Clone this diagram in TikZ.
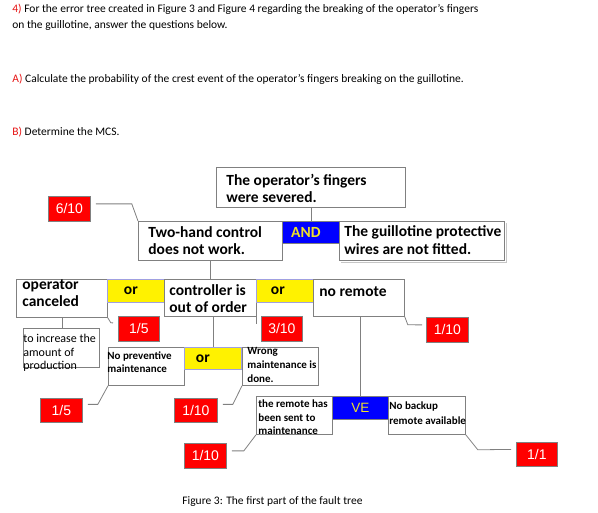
\documentclass[tikz,border=0pt]{standalone}
\usepackage{fontspec}
\setmainfont{Carlito}
\newfontfamily\arialfont{Liberation Sans}
\definecolor{linegray}{RGB}{128,128,128}
\definecolor{gateblue}{RGB}{0,0,255}
\definecolor{gateyellow}{RGB}{240,225,40}
\definecolor{orline}{RGB}{160,160,225}
\definecolor{qred}{RGB}{230,20,20}

\begin{document}
\begin{tikzpicture}[x=1pt,y=-1pt,line width=0.8pt,
  qtext/.style={anchor=base west,inner sep=0pt,font=\fontsize{11.5}{14}\selectfont},
  evbox/.style={draw=linegray,fill=white,anchor=north west,inner sep=0pt},
  gatebox/.style={draw=linegray,anchor=north west,inner sep=0pt,font=\bfseries\fontsize{15.5}{18}\selectfont},
  andgate/.style={gatebox,fill=gateblue,text=gateyellow},
  orgate/.style={gatebox,draw=orline,fill=yellow},
  prob/.style={draw=linegray,fill=red,text=white,anchor=north west,inner sep=0pt,font=\arialfont\fontsize{14}{16}\selectfont},
  bigtxt/.style={anchor=base west,inner sep=0pt,align=left,font=\bfseries\fontsize{15.5}{17.5}\selectfont},
  smalltxt/.style={anchor=base west,inner sep=0pt,align=left,font=\bfseries\fontsize{11}{13.5}\selectfont},
  link/.style={draw=linegray}]
  \useasboundingbox (0,0) rectangle (598,513);
  % questions
  \node[qtext] (q1) at (12,13) {\textcolor{qred}{4)} For the error tree created in Figure 3 and Figure 4 regarding the breaking of the operator's fingers};
  \node[qtext] (q2) at (12,29) {on the guillotine, answer the questions below.};
  \node[qtext] (qa) at (12,83) {\textcolor{qred}{A)} Calculate the probability of the crest event of the operator's fingers breaking on the guillotine.};
  \node[qtext] (qb) at (12,136) {\textcolor{qred}{B)} Determine the MCS.};
  % top event and first level (text placed at the baseline of its last line)
  \node[evbox,minimum width=189pt,minimum height=40pt] (top) at (216,167) {};
  \node[evbox,minimum width=144pt,minimum height=39pt] (two) at (138,221) {};
  \node[andgate,minimum width=57pt,minimum height=22pt] (and) at (282,221) {AND\rule{10pt}{0pt}};
  \node[evbox,minimum width=165pt,minimum height=39pt] (wir) at (339,221) {};
  \draw[gray!45] ([shift={(2,2)}]wir.north east) -- ([shift={(2,2)}]wir.south east) -- ([shift={(2,2)}]wir.south west);
  \node[bigtxt] (top-t) at (226,203) {The operator's fingers\\were severed.};
  \node[bigtxt] (two-t) at (148,255) {Two-hand control\\does not work.};
  \node[bigtxt] (wir-t) at (344,254.5) {The guillotine protective\\wires are not fitted.};
  % second level
  \node[evbox,minimum width=91pt,minimum height=38pt] (opc) at (16,279) {};
  \node[orgate,minimum width=57pt,minimum height=23pt] (or1) at (107,279) {or\rule{10pt}{0pt}};
  \node[evbox,minimum width=92pt,minimum height=37pt] (ctrl) at (164,279) {};
  \node[orgate,minimum width=57pt,minimum height=23pt] (or2) at (256,279) {or\rule{14pt}{0pt}};
  \node[evbox,minimum width=91pt,minimum height=37pt] (nor) at (313,279) {};
  \node[bigtxt] (opc-t) at (22,307) {operator\\canceled};
  \node[bigtxt] (ctrl-t) at (169,313) {controller is\\out of order};
  \node[bigtxt] (nor-t) at (319,297) {no remote};
  % third level
  \node[evbox,minimum width=76pt,minimum height=39pt] (inc) at (23,328) {};
  \node[evbox,minimum width=76pt,minimum height=38pt] (nop) at (108,347) {};
  \node[orgate,minimum width=57pt,minimum height=22pt] (or3) at (184,347) {or\rule{20pt}{0pt}};
  \node[evbox,minimum width=76pt,minimum height=38pt] (wrg) at (242,347) {};
  \node[evbox,minimum width=76pt,minimum height=38pt] (snt) at (256,396) {};
  \node[andgate,font=\arialfont\fontsize{13.5}{16}\selectfont,minimum width=56pt,minimum height=23pt] (ve) at (332,396) {VE};
  \node[evbox,minimum width=77pt,minimum height=38pt] (bck) at (388,396) {};
  \node[anchor=base west,inner sep=0pt,align=left,font=\fontsize{12}{13.3}\selectfont] (inc-t) at (23,369.5) {to increase the\\amount of\\production};
  \node[smalltxt,font=\bfseries\fontsize{11}{12.7}\selectfont] (nop-t) at (107,372.5) {No preventive\\maintenance};
  \node[smalltxt,font=\bfseries\fontsize{11}{14}\selectfont] (wrg-t) at (247,383) {Wrong\\maintenance is\\done.};
  \node[smalltxt] (snt-t) at (258,435) {the remote has\\been sent to\\maintenance};
  \node[smalltxt,font=\bfseries\fontsize{11}{14.5}\selectfont] (bck-t) at (389,424.5) {No backup\\remote available};
  % probabilities
  \node[prob,minimum width=42pt,minimum height=25pt] (p610) at (48,196) {6/10};
  \node[prob,minimum width=41pt,minimum height=25pt] (p15a) at (118,316) {1/5};
  \node[prob,minimum width=41pt,minimum height=25pt] (p310) at (261,316) {3/10};
  \node[prob,minimum width=42pt,minimum height=25pt] (p110a) at (426,317) {1/10};
  \node[prob,minimum width=42pt,minimum height=24pt] (p15b) at (40,398) {1/5};
  \node[prob,minimum width=43pt,minimum height=24pt] (p110b) at (174,398) {1/10};
  \node[prob,minimum width=42pt,minimum height=25pt] (p110c) at (184,443) {1/10};
  \node[prob,minimum width=41pt,minimum height=24pt] (p11) at (516,442) {1/1};
  % connectors
  \draw[link] (top) -- (and.north -| top.south);
  \draw[link] (two) -- (ctrl);
  \draw[link] (opc.south) -- (opc.south |- inc.north);
  \draw[link] (or3.north |- ctrl.south) -- (or3.north);
  \draw[link] (ve.north |- nor.south) -- (ve.north);
  \draw[link] ([shift={(5,-5)}]p610.east) -- ++(36,0) -- (two.north west);
  \draw[link] (opc.south east) -- ++(3,5) -- ([shift={(-5,-6)}]p15a.west);
  \draw[link] (ctrl.south east) -- ++(0,7);
  \draw[link] (nor.south east) -- ++(3,8) -- ([shift={(-4,-5)}]p110a.west);
  \draw[link] ([shift={(5,-6)}]p15b.east) -- ++(10,0) -- (nop.south west);
  \draw[link] ([shift={(5,-6)}]p110b.east) -- ++(10,0) -- (wrg.south west);
  \draw[link] ([shift={(5,-5)}]p110c.east) -- ++(12,0) -- (snt.south west);
  \draw[link] (bck.south east) -- ++(12,15) -- ([shift={(-5,-5)}]p11.west);
  % caption
  \node[qtext] (cap) at (182,504) {Figure 3: The first part of the fault tree};
\end{tikzpicture}
\end{document}
